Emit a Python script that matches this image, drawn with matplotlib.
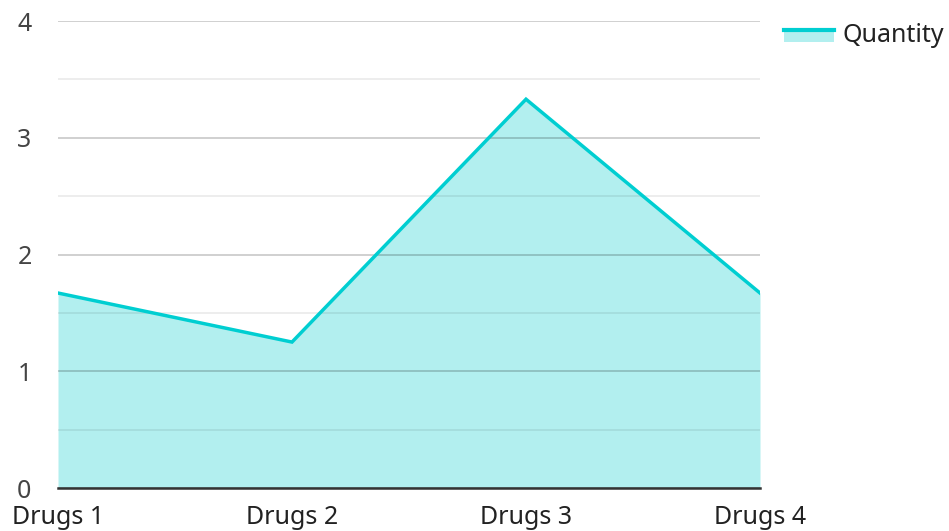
import matplotlib
matplotlib.use("Agg")
import matplotlib.pyplot as plt
from matplotlib.patches import Rectangle
from matplotlib.lines import Line2D
from matplotlib.legend_handler import HandlerBase

categories = ["Drugs 1", "Drugs 2", "Drugs 3", "Drugs 4"]
quantity = [1.67, 1.25, 3.33, 1.67]
y_ticks = [0, 1, 2, 3, 4]
series_name = "Quantity"

plt.rcParams['font.family'] = ['Noto Sans', 'DejaVu Sans']

line_color = "#00CED1"
fill_color = "#B2EFEF"

fig = plt.figure(figsize=(9.49, 5.31), dpi=100)
ax = fig.add_axes([58/949, 1-488/531, (760-58)/949, (488-21)/531])

x = list(range(len(categories)))
ax.fill_between(x, quantity, 0, color=fill_color, zorder=1, linewidth=0)
ax.plot(x, quantity, color=line_color, linewidth=2.5, zorder=3, solid_joinstyle='miter')

ax.set_xlim(0, len(categories)-1)
ax.set_ylim(0, 4)
ax.set_yticks(y_ticks)
ax.set_yticks([0.5, 1.5, 2.5, 3.5], minor=True)
ax.set_xticks(x)
ax.set_xticklabels(categories)
ax.grid(axis='y', which='major', color='#000000', alpha=0.2, linewidth=1.3, zorder=2)
ax.grid(axis='y', which='minor', color='#000000', alpha=0.08, linewidth=1.3, zorder=2)
ax.set_axisbelow(False)
for s in ['top', 'right', 'left']:
    ax.spines[s].set_visible(False)
ax.spines['bottom'].set_color('#333333')
ax.spines['bottom'].set_linewidth(1.8)
ax.spines['bottom'].set_zorder(4)
ax.tick_params(axis='both', which='both', length=0)
ax.tick_params(axis='y', labelsize=18, labelcolor='#444444', pad=19)
ax.tick_params(axis='x', labelsize=18, labelcolor='#222222', pad=12)
for lbl in ax.get_yticklabels():
    lbl.set_verticalalignment('center_baseline')


class AreaHandler(HandlerBase):
    def create_artists(self, legend, orig_handle, xdescent, ydescent, width, height, fontsize, trans):
        r = Rectangle((xdescent, ydescent), width, height*0.7, facecolor=fill_color,
                      edgecolor='none', transform=trans)
        l = Line2D([xdescent, xdescent + width], [ydescent + height*0.7, ydescent + height*0.7],
                   color=line_color, linewidth=3, transform=trans)
        return [r, l]

handle = Rectangle((0, 0), 1, 1)
leg = fig.legend([handle], [series_name], handler_map={Rectangle: AreaHandler()},
                 loc='upper left', bbox_to_anchor=(784/949, 1-23/531), frameon=False,
                 fontsize=18, handlelength=2.0, handletextpad=0.35, borderaxespad=0,
                 borderpad=0)
for t in leg.get_texts():
    t.set_color('#222222')

fig.savefig("out.png", dpi=100)
